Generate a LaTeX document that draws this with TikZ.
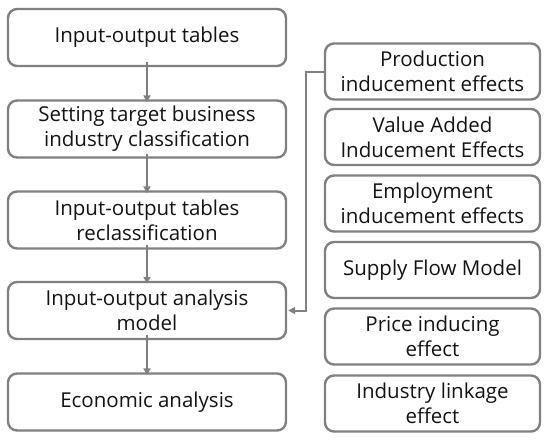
\documentclass[tikz,border=0pt]{standalone}
\usepackage{fontspec}
\setmainfont{Open Sans}
\usetikzlibrary{arrows.meta}
\definecolor{boxgray}{RGB}{128,128,128}
\definecolor{txt}{RGB}{20,20,20}
\tikzset{
  x=1pt,y=-1pt,
  flowbox/.style={draw=boxgray, line width=2.4pt, rounded corners=9pt, fill=white,
    inner sep=0pt, align=center, text=txt,
    font=\fontsize{20.5}{25}\selectfont},
  leftbox/.style={flowbox, minimum width=278pt, minimum height=57pt},
  rightbox/.style={flowbox, minimum width=215pt, minimum height=56pt},
  conn/.style={draw=boxgray, line width=2pt, -{Triangle[length=7pt,width=7pt]}}
}
\begin{document}
\begin{tikzpicture}
\useasboundingbox (0,0) rectangle (550,440);
\fill[white] (0,0) rectangle (550,440);
\node[leftbox] (l1) at (147,37.5) {Input-output tables};
\node[leftbox] (l2) at (147,129) {Setting target business\\industry classification};
\node[leftbox] (l3) at (147,220) {Input-output tables\\reclassification};
\node[leftbox] (l4) at (147,310.5) {Input-output analysis\\model};
\node[leftbox] (l5) at (147,402) {Economic analysis};
\node[rightbox] (r1) at (432.5,71.5) {Production\\inducement effects};
\node[rightbox] (r2) at (432.5,137) {Value Added\\Inducement Effects};
\node[rightbox] (r3) at (432.5,203.5) {Employment\\inducement effects};
\node[rightbox] (r4) at (432.5,270) {Supply Flow Model};
\node[rightbox] (r5) at (432.5,336.5) {Price inducing\\effect};
\node[rightbox] (r6) at (432.5,403.5) {Industry linkage\\effect};
\foreach \a/\b in {l1/l2,l2/l3,l3/l4,l4/l5}{
  \draw[conn] ([yshift=5pt]\a.south) -- ([yshift=-3pt]\b.north);
}
\coordinate (bend) at (306,71.5);
\draw[conn] (r1.west) -- (bend) -- (bend |- l4.east) -- ([xshift=1pt]l4.east);
\end{tikzpicture}
\end{document}
